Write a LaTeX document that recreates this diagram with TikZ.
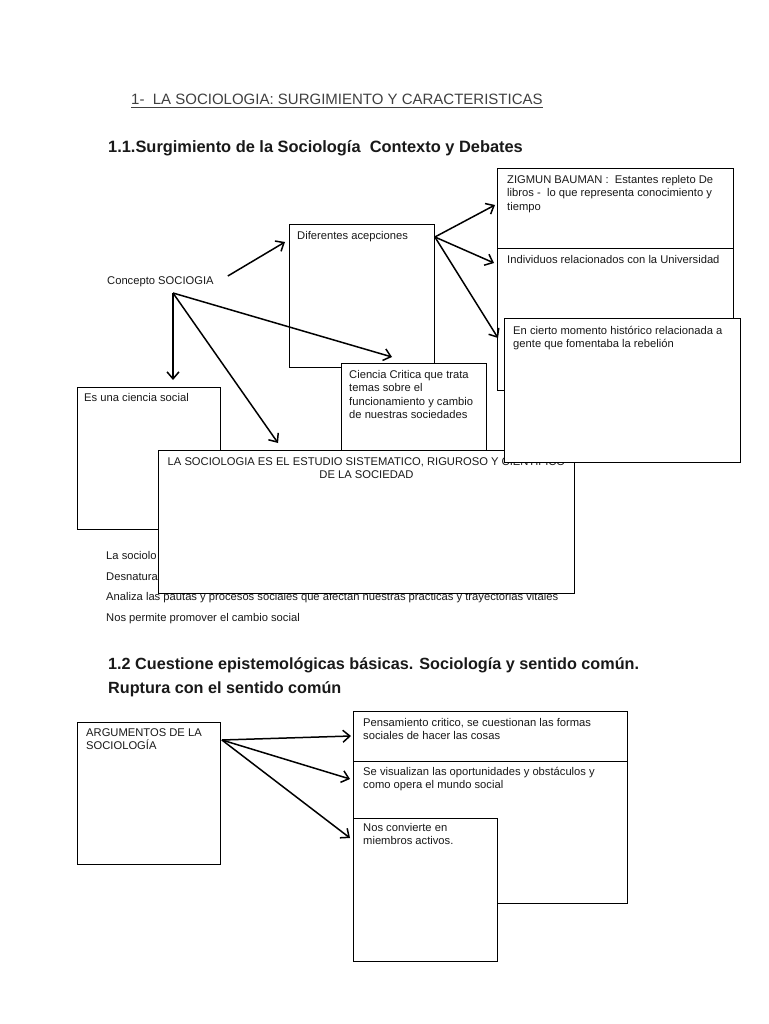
\documentclass[tikz,border=0pt]{standalone}
\usepackage{fontspec}
\setmainfont{Liberation Sans}
\usetikzlibrary{arrows.meta,positioning,calc}

\tikzset{
  caja/.style={draw=black, line width=0.9pt, fill=white, anchor=north west, inner sep=0pt},
  texto/.style={inner sep=0pt, anchor=north west, align=left, text=black!90,
    font=\fontsize{11.2}{13.5}\selectfont},
  titulo/.style={inner sep=0pt, anchor=base west, text=black!90},
  flecha/.style={draw=black, line width=1.5pt, -{Straight Barb[length=7pt,width=12pt]}},
}

\begin{document}
\begin{tikzpicture}[x=1pt,y=-1pt]
\useasboundingbox[fill=white] (0,0) rectangle (768,1024);

% titulos
\node[titulo, text=black!75, font=\fontsize{15}{18}\selectfont] (tit) at (131,105) {1-\ \ LA SOCIOLOGIA: SURGIMIENTO Y CARACTERISTICAS};
\draw[line width=0.7pt, black!75] ([yshift=-2pt]tit.base west) -- ([yshift=-2pt]tit.base east);
\node[titulo, font=\bfseries\fontsize{16.4}{20}\selectfont] (sec1) at (108,153) {1.1.Surgimiento de la Sociología\ \ Contexto y Debates};

% primer esquema
\node[titulo, font=\fontsize{11.2}{13.5}\selectfont] (conc) at (107,284) {Concepto SOCIOGIA};
\coordinate (hub) at (173,293);

\node[caja, minimum width=145, minimum height=143] (dif) at (289,224) {};
\node[texto, below right=7pt and 8pt of dif.north west] (diftxt) {Diferentes acepciones};

\node[caja, minimum width=145, minimum height=137] (cc) at (341,363) {};
\node[texto, below right=7pt and 8pt of cc.north west] (cctxt) {Ciencia Critica que trata\\temas sobre el\\funcionamiento y cambio\\de nuestras sociedades};

\node[caja, minimum width=143, minimum height=142] (es) at (77,387) {};
\node[texto, below right=6pt and 7pt of es.north west] (estxt) {Es una ciencia social};

\node[caja, minimum width=236, minimum height=80] (zig) at (497,168) {};
\node[texto, below right=7pt and 10pt of zig.north west] (zigtxt) {ZIGMUN BAUMAN :\ \ Estantes repleto De\\libros -\ \ lo que representa conocimiento y\\tiempo};
\node[caja, minimum width=236, minimum height=142] (ind) at (497,248) {};
\node[texto, below right=7pt and 10pt of ind.north west] (indtxt) {Individuos relacionados con la Universidad};

% lineas de texto bajo el recuadro
\node[titulo, font=\fontsize{11.2}{13.5}\selectfont] (l1) at (106,559) {La sociolo};
\node[titulo, font=\fontsize{11.2}{13.5}\selectfont] (l2) at (106,580) {Desnatura};
\node[titulo, font=\fontsize{11.2}{13.5}\selectfont] (l3) at (106,600) {Analiza las pautas y procesos sociales que afectan nuestras practicas y trayectorias vitales};
\node[titulo, font=\fontsize{11.2}{13.5}\selectfont] (l4) at (106,621) {Nos permite promover el cambio social};

\node[caja, minimum width=416, minimum height=143] (lasoc) at (158,450) {};
\node[texto, align=center, anchor=north, below=7pt of lasoc.north] (lasoctxt) {LA SOCIOLOGIA ES EL ESTUDIO SISTEMATICO, RIGUROSO Y CIENTIFICO\\DE LA SOCIEDAD};

\node[caja, minimum width=236, minimum height=144] (cierto) at (504,318) {};
\node[texto, below right=8pt and 9pt of cierto.north west] (ciertotxt) {En cierto momento histórico relacionada a\\gente que fomentaba la rebelión};

\coordinate (difhub) at ($(dif.north east)+(0,13)$);
\draw[flecha] ($(conc.base east)+(14,-8)$) -- ($(dif.north west)+(-4,18)$);
\draw[flecha] (hub) -- ($(es.north west)+(96,-7)$);
\draw[flecha] (hub) -- ($(cc.north west)+(51,-6)$);
\draw[flecha] (hub) -- ($(lasoc.north west)+(120,-7)$);
\draw[flecha] (difhub) -- ($(zig.north west)+(-2,37)$);
\draw[flecha] (difhub) -- ($(ind.north west)+(-3,15)$);
\draw[flecha] (difhub) -- ($(cierto.north west)+(-6,20)$);

% segundo apartado
\node[titulo, font=\bfseries\fontsize{16.2}{20}\selectfont] (sec2a) at (108,669) {1.2 Cuestione epistemológicas básicas. Sociología y sentido común.};
\node[titulo, font=\bfseries\fontsize{16.2}{20}\selectfont] (sec2b) at (108,693) {Ruptura con el sentido común};

\node[caja, minimum width=143, minimum height=142] (arg) at (77,722) {};
\node[texto, below right=6pt and 9pt of arg.north west] (argtxt) {ARGUMENTOS DE LA\\SOCIOLOGÍA};

\node[caja, minimum width=274, minimum height=50] (pen) at (353,711) {};
\node[texto, below right=7pt and 10pt of pen.north west] (pentxt) {Pensamiento critico, se cuestionan las formas\\sociales de hacer las cosas};
\node[caja, minimum width=274, minimum height=142] (sev) at (353,761) {};
\node[texto, below right=6pt and 10pt of sev.north west] (sevtxt) {Se visualizan las oportunidades y obstáculos y\\como opera el mundo social};
\node[caja, minimum width=144, minimum height=143] (nos) at (353,818) {};
\node[texto, below right=5pt and 10pt of nos.north west] (nostxt) {Nos convierte en\\miembros activos.};

\coordinate (arghub) at ($(arg.north east)+(1,18)$);
\draw[flecha] (arghub) -- ($(pen.north west)+(-2,25)$);
\draw[flecha] (arghub) -- ($(sev.north west)+(-3,18)$);
\draw[flecha] (arghub) -- ($(nos.north west)+(-3,20)$);
\end{tikzpicture}
\end{document}
